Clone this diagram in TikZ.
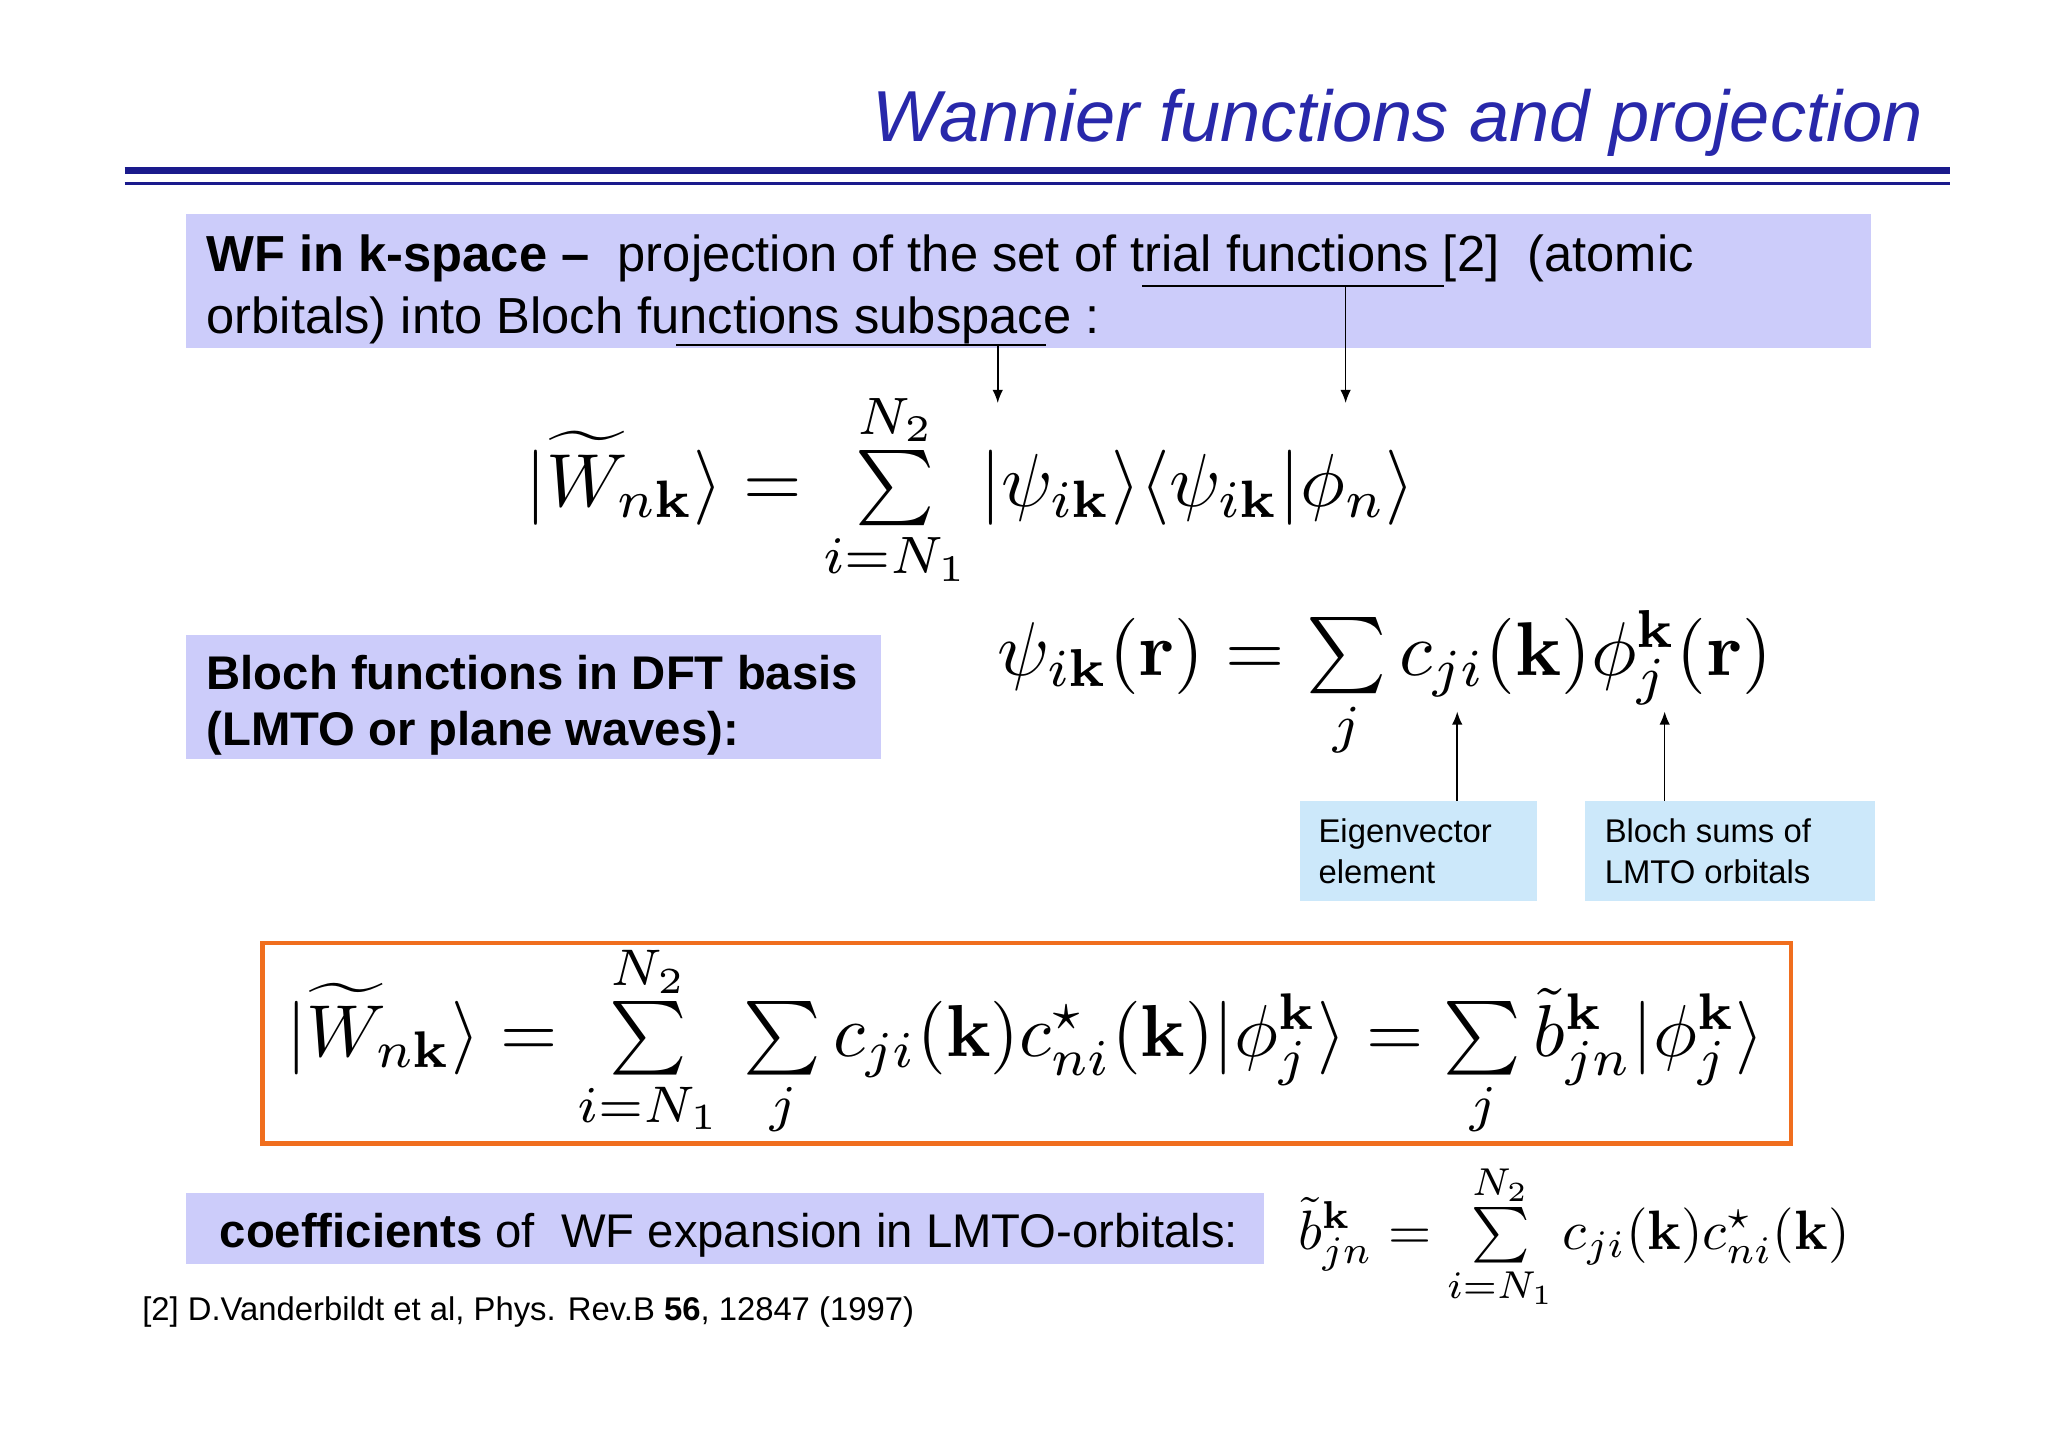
\documentclass[tikz,border=0pt]{standalone}
\usepackage{amsmath,amssymb}
\usepackage{graphicx}
\usepackage[no-math]{fontspec}
\setmainfont{Liberation Sans}
\usetikzlibrary{arrows.meta}
\definecolor{navy}{RGB}{26,26,140}
\definecolor{titleblue}{RGB}{40,40,170}
\definecolor{lav}{RGB}{204,204,250}
\definecolor{lblue}{RGB}{204,232,250}
\definecolor{orng}{RGB}{240,110,30}
\newcommand{\kk}{\mathbf{k}}
\newcommand{\rr}{\mathbf{r}}
\tikzset{txt/.style={anchor=base west,inner sep=0pt,font=\fontsize{18}{22}\selectfont},
 small/.style={anchor=base west,inner sep=0pt,font=\fontsize{12.5}{15}\selectfont},
 arr/.style={-{Latex[length=5pt,width=4pt]},line width=0.6pt},
 eq/.style={inner sep=0pt}}
\begin{document}
\begin{tikzpicture}[x=0.5pt,y=-0.5pt]
\useasboundingbox (0,0) rectangle (1560,1102);
\fill[white] (0,0) rectangle (1560,1102);
\node[anchor=base east,inner sep=0pt,text=titleblue,font=\fontsize{27.5}{33}\itshape] (title) at (1465,108) {Wannier functions and projection};
\draw[navy,line width=2.6pt] (95,130) -- (1485,130);
\draw[navy,line width=1pt] (95,140) -- (1485,140);
% box1
\fill[lav] (142,163) rectangle (1425,265);
\node[txt,font=\fontsize{19.3}{22}\selectfont] (l1) at (157,207) {\textbf{WF in k-space –}\ \ projection of the set of trial functions [2]\ \ (atomic};
\node[txt,font=\fontsize{19.3}{22}\selectfont] (l2) at (157,254) {orbitals) into Bloch functions subspace :};
\coordinate (u1a) at (870,218); \coordinate (u1b) at (1100,218); \coordinate (u1c) at (1025,218);
\coordinate (u2a) at (515,263); \coordinate (u2b) at (797,263); \coordinate (u2c) at (760,263);
\draw[line width=0.6pt] (u1a) -- (u1b); \draw[line width=0.6pt] (u2a) -- (u2b);
\coordinate (t1) at (1025,307); \coordinate (t2) at (760,307);
\draw[arr] (u1c) -- (t1); \draw[arr] (u2c) -- (t2);
% formula 1
\node[eq] (f1) at (739,373) {\resizebox{339pt}{!}{$|\widetilde{W}_{n\kk}\rangle=\sum\limits_{i=N_1}^{N_2}|\psi_{i\kk}\rangle\langle\psi_{i\kk}|\phi_n\rangle$}};
% box2
\fill[lav] (142,484) rectangle (671,578);
\node[txt] (b1) at (157,525) {\textbf{Bloch functions in DFT basis}};
\node[txt] (b2) at (157,568) {\textbf{(LMTO or plane waves):}};
% formula 2
\node[eq] (f2) at (1055,522) {\resizebox{295pt}{!}{$\psi_{i\kk}(\rr)=\sum\limits_j c_{ji}(\kk)\phi^{\kk}_j(\rr)$}};
\fill[lblue] (990,610) rectangle (1171,686);
\fill[lblue] (1207,610) rectangle (1428,686);
\node[small] (e1) at (1004,642) {Eigenvector};
\node[small] (e2) at (1004,673) {element};
\node[small] (s1) at (1222,642) {Bloch sums of};
\node[small] (s2) at (1222,673) {LMTO orbitals};
\coordinate (a1) at (1110,610); \coordinate (a1t) at (1110,542);
\coordinate (a2) at (1268,610); \coordinate (a2t) at (1268,542);
\draw[arr] (a1) -- (a1t); \draw[arr] (a2) -- (a2t);
% orange box
\draw[orng,line width=1.6pt] (200,718) rectangle (1364,871);
\node[eq] (f3) at (781,793) {\resizebox{563pt}{!}{$|\widetilde{W}_{n\kk}\rangle=\sum\limits_{i=N_1}^{N_2}\,\sum\limits_j c_{ji}(\kk)c^{\star}_{ni}(\kk)|\phi^{\kk}_j\rangle=\sum\limits_j\tilde b^{\kk}_{jn}|\phi^{\kk}_j\rangle$}};
% box5
\fill[lav] (142,909) rectangle (963,963);
\node[txt] (c1) at (167,950) {\textbf{coefficients} of\ \ WF expansion in LMTO-orbitals:};
\node[eq] (f4) at (1199,942) {\resizebox{210pt}{!}{$\tilde b^{\kk}_{jn}=\sum\limits_{i=N_1}^{N_2}c_{ji}(\kk)c^{\star}_{ni}(\kk)$}};
\node[anchor=base west,inner sep=0pt,font=\fontsize{12.5}{15}\selectfont] (ref) at (108,1006) {[2] D.Vanderbildt et al, Phys. Rev.B \textbf{56}, 12847 (1997)};
\end{tikzpicture}
\end{document}
